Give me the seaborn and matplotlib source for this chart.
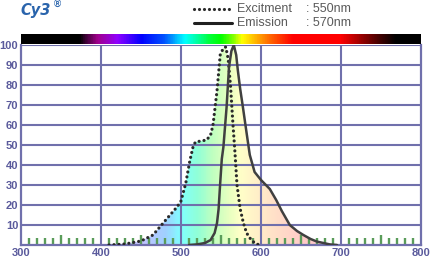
import numpy as np
import pandas as pd
import matplotlib
matplotlib.use("Agg")
import matplotlib.pyplot as plt
from matplotlib.colors import LinearSegmentedColormap
import seaborn as sns

# ---- data ----
ex_wl = [410, 430, 450, 465, 482, 495, 500, 506, 511, 515, 518, 525, 532, 537, 540, 545, 549,
         553, 556, 559, 562, 565, 567.5, 570, 574, 578, 582, 587, 592, 598]
ex_val = [0, 0.5, 2, 5, 13, 19, 22, 31, 42, 49, 51.5, 52, 52.5, 55, 60, 77, 95,
          98.5, 99, 93, 79, 60, 46, 30, 18, 11, 6, 3, 1, 0]
em_wl = [510, 520, 530, 537, 542, 545, 547, 549, 551, 553, 557, 560, 563, 566, 569, 571, 574,
         577, 582, 586, 592, 600, 611, 619, 626, 636, 645, 653, 662, 670, 686, 695]
em_val = [0, 0.3, 1, 2.5, 6, 11, 18, 31, 43, 49, 69, 89, 97, 100, 95, 87.5, 78,
          70, 56, 45, 36.5, 32.5, 28, 22.5, 17, 10, 7, 5, 3, 1.7, 0.3, 0]
x_ticks = [300, 400, 500, 600, 700, 800]
y_ticks = [10, 20, 30, 40, 50, 60, 70, 80, 90, 100]
title = "Cy3"
legend_names = ["Excitment", "Emission"]
legend_peaks = [": 550nm", ": 570nm"]

bar_stops = [(300, "#000000"), (372, "#000000"), (395, "#a0008c"), (420, "#9000ff"),
             (450, "#0000ff"), (478, "#0050ff"), (505, "#00ffff"), (535, "#00ff40"),
             (550, "#00ff00"), (565, "#80ff00"), (577, "#ffff00"), (605, "#ff8000"),
             (640, "#ff0000"), (700, "#ff0000"), (750, "#400000"), (770, "#000000"),
             (800, "#000000")]
fill_stops = [(300, "#d8c8ff"), (450, "#c4c4ff"), (480, "#a0d0ff"), (500, "#80ffff"),
              (520, "#90ffd8"), (540, "#c0ffc0"), (560, "#e8ffc0"), (575, "#ffffc8"),
              (600, "#ffecc8"), (630, "#ffd8c8"), (660, "#ffc8c8"), (700, "#ffd4d4"),
              (800, "#ffe0e0")]

sns.set_theme(style="white")
plt.rcParams["font.family"] = ["Liberation Sans", "DejaVu Sans"]

W, H = 430, 259
fig = plt.figure(figsize=(W / 100, H / 100), dpi=100)
grid_c = "#7070ac"
lab_c = "#5a5a9c"

def fx(px):
    return px / W

def fy(py):
    return 1 - py / H

x0, x1 = 21, 421
ytop, ybot = 45, 245
ax = fig.add_axes([fx(x0), fy(ybot), fx(x1) - fx(x0), fy(ytop) - fy(ybot)])
ax.set_xlim(300, 800)
ax.set_ylim(0, 100)

def cmap_from(stops):
    lo, hi = stops[0][0], stops[-1][0]
    return LinearSegmentedColormap.from_list(
        "c", [((w - lo) / (hi - lo), c) for w, c in stops])

# gradient fill under both curves
grid_x = np.union1d(ex_wl, em_wl)
top = np.maximum(np.interp(grid_x, ex_wl, ex_val, left=0, right=0),
                 np.interp(grid_x, em_wl, em_val, left=0, right=0))
poly = ax.fill_between(grid_x, 0, top, color="none", lw=0)
grad = np.linspace(0, 1, 500)[None, :]
im = ax.imshow(grad, extent=[300, 800, 0, 100], aspect="auto",
               cmap=cmap_from(fill_stops), origin="lower", zorder=1)
im.set_clip_path(poly.get_paths()[0], transform=ax.transData)

# grid
for v in [400, 500, 600, 700]:
    ax.axvline(v, color=grid_c, lw=1.5, zorder=2)
for v in y_ticks:
    ax.axhline(v, color=grid_c, lw=1.5, zorder=2)

# green minor ticks
mt = [w for w in np.arange(310, 800, 10) if w % 100 != 0]
ax.vlines(mt, 0, [5 if w % 50 == 0 else 3.6 for w in mt], color="#5a9c5a", lw=1.7, zorder=2)

# curves
sns.lineplot(x=ex_wl, y=ex_val, ax=ax, color="#2a2a2a", lw=2.3,
             linestyle=(0, (0.01, 1.55)), dash_capstyle="round", zorder=4, sort=False)
sns.lineplot(x=em_wl, y=em_val, ax=ax, color="#404040", lw=1.8, zorder=4, sort=False)

for s in ["left", "bottom", "right"]:
    ax.spines[s].set_color(grid_c)
    ax.spines[s].set_linewidth(1.6)
ax.spines["top"].set_visible(False)
ax.set_xticks(x_ticks)
ax.set_yticks(y_ticks)
tfont = dict(family=["Liberation Sans"], fontweight="bold", size=8, color=lab_c)
ax.set_xticklabels([str(t) for t in x_ticks], **tfont)
ax.set_yticklabels([str(t) for t in y_ticks], **tfont)
ax.tick_params(axis="x", length=0, pad=2.5)
ax.tick_params(axis="y", length=0, pad=2)
ax.set_xlabel("")
ax.set_ylabel("")

# spectrum color bar
cax = fig.add_axes([fx(x0), fy(44), fx(x1) - fx(x0), fy(34) - fy(44)])
cax.imshow(np.linspace(0, 1, 500)[None, :], aspect="auto", cmap=cmap_from(bar_stops),
           extent=[300, 800, 0, 1])
cax.set_axis_off()

# title
fig.text(fx(20), fy(10), title, fontsize=10.5, fontweight="heavy", style="italic",
         color="#2a64ac", va="center", ha="left", family=["DejaVu Sans"])
fig.text(fx(54), fy(5), "®", fontsize=7, fontweight="bold", color="#2a64ac",
         va="center", ha="left")

# legend
lax = fig.add_axes([0, 0, 1, 1], facecolor="none")
lax.set_xlim(0, W)
lax.set_ylim(H, 0)
lax.set_axis_off()
lax.plot([194, 232], [9, 9], color="#2a2a2a", lw=2.3, linestyle=(0, (0.01, 1.55)),
         dash_capstyle="round")
lax.plot([194, 232], [23, 23], color="#202020", lw=2.2)
for yy, n, p in zip([9, 23], legend_names, legend_peaks):
    lax.text(237, yy, n, fontsize=9, color="#5a5a5a", va="center", ha="left")
    lax.text(306, yy, p, fontsize=9, color="#5a5a5a", va="center", ha="left")

fig.savefig("out.png", dpi=100)
